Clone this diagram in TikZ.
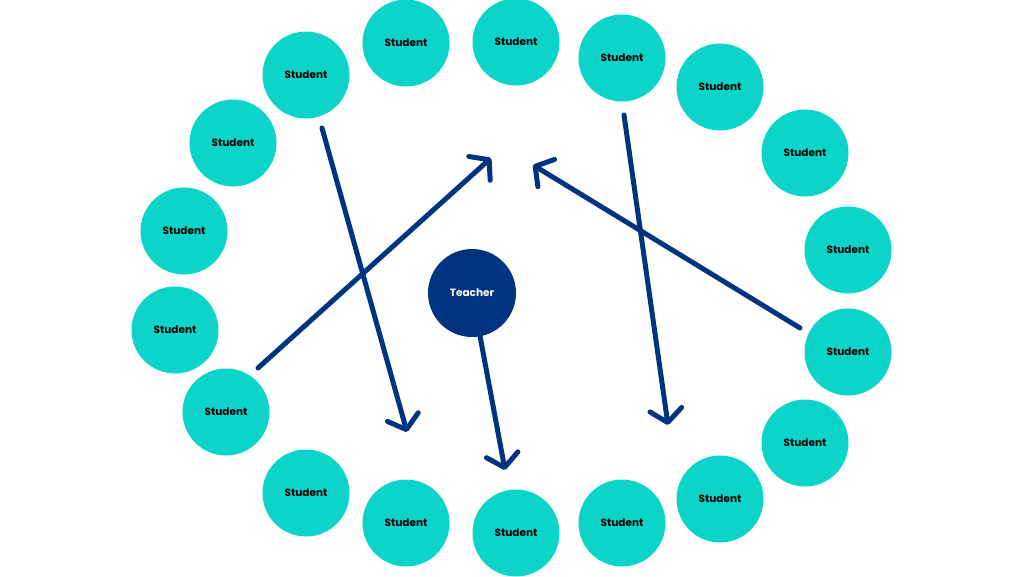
\documentclass[tikz,border=0pt]{standalone}
\usepackage{fontspec}
\setmainfont{Poppins}
\usetikzlibrary{arrows.meta}
\definecolor{studentteal}{RGB}{12,212,200}
\definecolor{teachernavy}{RGB}{0,51,128}
\begin{document}
\begin{tikzpicture}[x=1pt, y=-1pt,
    student_style/.style={circle, fill=studentteal, minimum size=87pt, inner sep=0pt, font=\fontsize{10.5}{12}\selectfont\bfseries},
    teacher_style/.style={circle, fill=teachernavy, text=white, minimum size=88pt, inner sep=0pt, font=\fontsize{10.5}{12}\selectfont\bfseries},
    move_style/.style={line width=5pt, teachernavy, line cap=round, -{Straight Barb[round, length=13pt, width=32pt]}}
]
\useasboundingbox (0,0) rectangle (1024,576);
% les eleves en cercle
\foreach \x/\y [count=\i] in {406/43, 516/42, 622/58, 720/87, 805/153, 848/250, 848/352, 805/443, 720/499, 622/523, 516/533, 406/523, 306/493, 226/412, 175/330, 184/231, 233/143, 306/75} {
    \node[student_style] (s\i) at (\x,\y) {Student};
}
% l'enseignant
\node[teacher_style] (t) at (472,293) {Teacher};
% extremites des fleches
\coordinate (a1) at (322,128);
\coordinate (a2) at (407,432);
\coordinate (b1) at (258,368);
\coordinate (b2) at (491,158);
\coordinate (c1) at (800,328);
\coordinate (c2) at (533,165);
\coordinate (d1) at (624,115);
\coordinate (d2) at (668,425);
\coordinate (e2) at (505,470);
\draw[move_style] (a1) -- (a2);
\draw[move_style] (b1) -- (b2);
\draw[move_style] (c1) -- (c2);
\draw[move_style] (d1) -- (d2);
\draw[move_style] (t) -- (e2);
\end{tikzpicture}
\end{document}
